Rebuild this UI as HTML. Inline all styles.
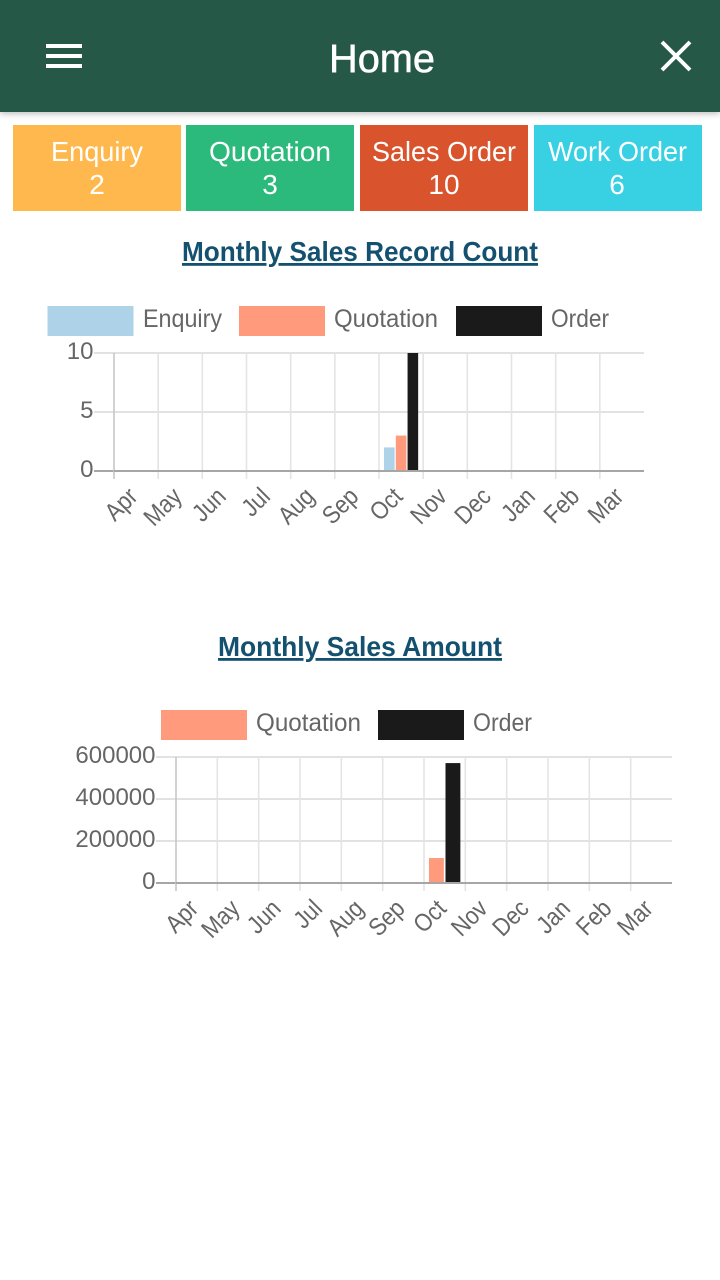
<!DOCTYPE html>
<html lang="en">
<head>
<meta charset="utf-8">
<title>Home</title>
<style>
html,body{margin:0;padding:0;background:#fff;width:720px;height:1280px;overflow:hidden}
body{position:relative;font-family:"Liberation Sans",sans-serif}
#header{position:absolute;left:0;top:0;width:720px;height:112px;background:#265848;box-shadow:0 2px 6px rgba(0,0,0,.25)}
.bar{position:absolute;left:46px;width:36px;height:4px;background:#fff}
.card{position:absolute;top:125px;width:168px;height:86px}
svg{position:absolute;left:0;top:0}
text{font-family:"Liberation Sans",sans-serif}
</style>
</head>
<body>
<div id="header"></div>
<div class="card" style="left:13px;background:#ffb84d"></div>
<div class="card" style="left:186px;background:#2bba7b"></div>
<div class="card" style="left:360px;background:#d9542c"></div>
<div class="card" style="left:534px;background:#38d1e4"></div>
<div class="bar" style="top:44px"></div>
<div class="bar" style="top:54px"></div>
<div class="bar" style="top:64px"></div>

<svg width="720" height="1280" viewBox="0 0 720 1280">
  <g stroke="#fff" stroke-width="4" fill="none">
    <line x1="662" y1="42" x2="690" y2="70"></line>
    <line x1="690" y1="42" x2="662" y2="70"></line>
  </g>
  <text x="329" y="72" font-size="40" font-weight="400" fill="#fff" stroke="#fff" stroke-width="0.5" textLength="106" lengthAdjust="spacingAndGlyphs">Home</text>

  <g fill="#fff" font-size="28">
    <text x="51" y="161" textLength="92" lengthAdjust="spacingAndGlyphs">Enquiry</text>
    <text x="97" y="194" text-anchor="middle" font-size="28">2</text>
    <text x="209" y="161" textLength="122" lengthAdjust="spacingAndGlyphs">Quotation</text>
    <text x="270" y="194" text-anchor="middle" font-size="28">3</text>
    <text x="372" y="161" textLength="144" lengthAdjust="spacingAndGlyphs">Sales Order</text>
    <text x="444" y="194" text-anchor="middle" font-size="28">10</text>
    <text x="548" y="161" textLength="139" lengthAdjust="spacingAndGlyphs">Work Order</text>
    <text x="617" y="194" text-anchor="middle" font-size="28">6</text>
  </g>

  <g fill="#14506f" font-size="28" font-weight="700" text-decoration="underline">
    <text x="182" y="261" textLength="356" lengthAdjust="spacingAndGlyphs">Monthly Sales Record Count</text>
    <text x="218" y="656" textLength="284" lengthAdjust="spacingAndGlyphs">Monthly Sales Amount</text>
  </g>

  <g id="count-chart"></g>
  <g id="amount-chart"></g>
</svg>

<script>
var months = ['Apr','May','Jun','Jul','Aug','Sep','Oct','Nov','Dec','Jan','Feb','Mar'];

var countTicks = [0, 5, 10];
var enquiryCounts = [0,0,0,0,0,0,2,0,0,0,0,0];
var quotationCounts = [0,0,0,0,0,0,3,0,0,0,0,0];
var orderCounts = [0,0,0,0,0,0,10,0,0,0,0,0];

var amountTicks = [0, 200000, 400000, 600000];
var quotationAmounts = [0,0,0,0,0,0,119000,0,0,0,0,0];
var orderAmounts = [0,0,0,0,0,0,571000,0,0,0,0,0];

var enquiryColor = '#aed3e8';
var quotationColor = '#ff9b7c';
var orderColor = '#1a1a1a';

var SVGNS = 'http://www.w3.org/2000/svg';

function svgEl(parent, tag, attrs) {
  var el = document.createElementNS(SVGNS, tag);
  for (var k in attrs) el.setAttribute(k, attrs[k]);
  parent.appendChild(el);
  return el;
}

function drawChart(root, cfg) {
  var n = cfg.categories.length;
  var maxTick = cfg.ticks[cfg.ticks.length - 1];
  function xEdge(i) { return cfg.left + (cfg.right - cfg.left) * i / n; }
  function yPos(v) { return cfg.bottom - (cfg.bottom - cfg.top) * v / maxTick; }

  cfg.legend.forEach(function (item) {
    var box = svgEl(root, 'rect', {x: item.boxX, y: cfg.legendY, width: 86, height: 30, fill: item.color});
    
    
    var label = svgEl(root, 'text', {x: item.textX, y: cfg.legendY + 21, 'font-size': 25, fill: '#666', textLength: item.textW, lengthAdjust: 'spacingAndGlyphs'});
    label.textContent = item.name;
    
    
  });

  cfg.ticks.forEach(function (t) {
    var y = yPos(t);
    var line = svgEl(root, 'line', {x1: cfg.left - 20, x2: cfg.right, y1: y, y2: y, stroke: t === 0 ? '#a6a6a6' : '#e2e2e2', 'stroke-width': 2});
    
    
    var label = svgEl(root, 'text', {x: cfg.left - 20.5, y: y + 6, 'font-size': 24, fill: '#666', 'text-anchor': 'end'});
    label.textContent = String(t);
    
    
  });

  for (var i = 0; i <= n; i++) {
    var x = xEdge(i);
    var v = svgEl(root, 'line', {x1: x, x2: x, y1: cfg.top, y2: i === n ? cfg.top : cfg.bottom + 8, stroke: i === 0 ? '#c6c6c6' : '#e4e4e4', 'stroke-width': 1.6});
    
    
  }

  var catW = (cfg.right - cfg.left) / n;
  var groupW = catW * 0.8;
  var slotW = groupW / cfg.series.length;
  var barW = slotW * 0.9;
  cfg.series.forEach(function (s, si) {
    s.values.forEach(function (val, i) {
      if (!val) return;
      var bx = xEdge(i) + (catW - groupW) / 2 + slotW * si + (slotW - barW) / 2;
      var by = yPos(val);
      var r = svgEl(root, 'rect', {x: bx, y: by, width: barW, height: cfg.bottom - by, fill: s.color});
      
      
    });
  });

  var zero = svgEl(root, 'line', {x1: cfg.left, x2: cfg.right, y1: cfg.bottom, y2: cfg.bottom, stroke: '#a6a6a6', 'stroke-width': 2});
  
  

  cfg.categories.forEach(function (m, i) {
    var cx = xEdge(i) + catW / 2 + 3;
    var cy = cfg.bottom + 27;
    var t = svgEl(root, 'text', {x: cx, y: cy, 'font-size': 25, fill: '#666', 'text-anchor': 'end', transform: 'rotate(-45 ' + cx + ' ' + cy + ') translate(' + cx + ' ' + cy + ') scale(0.88 1) translate(' + (-cx) + ' ' + (-cy) + ')'});
    t.textContent = m;
    
    
  });
}

drawChart(document.getElementById('count-chart'), {
  left: 114, right: 644, top: 353, bottom: 471, legendY: 306,
  categories: months, ticks: countTicks,
  legend: [
    {name: 'Enquiry', color: enquiryColor, boxX: 47.5, textX: 143, textW: 79},
    {name: 'Quotation', color: quotationColor, boxX: 239, textX: 334, textW: 104},
    {name: 'Order', color: orderColor, boxX: 456, textX: 551, textW: 58}
  ],
  series: [
    {color: enquiryColor, values: enquiryCounts},
    {color: quotationColor, values: quotationCounts},
    {color: orderColor, values: orderCounts}
  ]
});

drawChart(document.getElementById('amount-chart'), {
  left: 176, right: 672, top: 757, bottom: 883, legendY: 710,
  categories: months, ticks: amountTicks,
  legend: [
    {name: 'Quotation', color: quotationColor, boxX: 161, textX: 256, textW: 105},
    {name: 'Order', color: orderColor, boxX: 378, textX: 473, textW: 59}
  ],
  series: [
    {color: quotationColor, values: quotationAmounts},
    {color: orderColor, values: orderAmounts}
  ]
});
</script>
</body>
</html>
